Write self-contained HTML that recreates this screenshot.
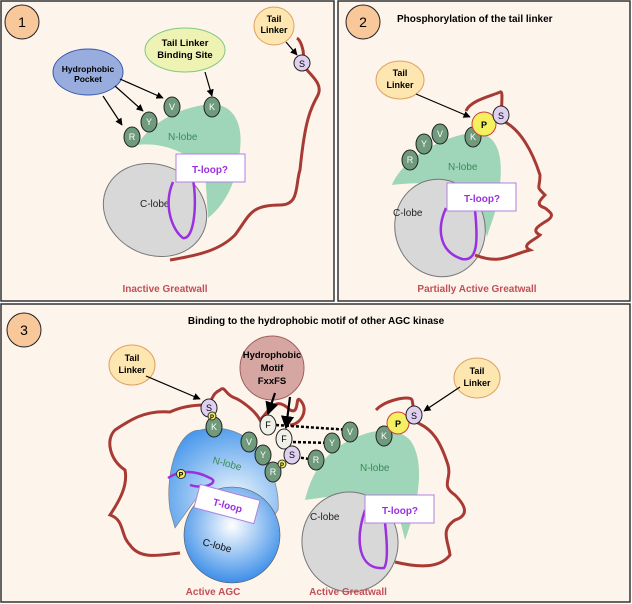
<!DOCTYPE html>
<html><head><meta charset="utf-8"><style>
body{margin:0;background:#fff}
svg{display:block}
text{font-family:"Liberation Sans",sans-serif}
.b{font-weight:bold}
</style></head><body>
<svg width="632" height="604" viewBox="0 0 632 604" xmlns="http://www.w3.org/2000/svg">
<defs>
<marker id="ar" viewBox="0 0 10 10" refX="9" refY="5" markerWidth="6" markerHeight="6" orient="auto"><path d="M0,0L10,5L0,10z" fill="#000"/></marker>
<radialGradient id="bl" cx="0.5" cy="0.4" r="0.6"><stop offset="0" stop-color="#fff"/><stop offset="1" stop-color="#3c8ee8"/></radialGradient>
<radialGradient id="bl2" cx="0.6" cy="0.7" r="0.8"><stop offset="0" stop-color="#eef6fc"/><stop offset="1" stop-color="#3f92ea"/></radialGradient>
</defs>
<rect width="632" height="604" fill="#fff"/>
<rect x="1" y="1" width="333" height="300" fill="#fdf4ec" stroke="#333" stroke-width="1.5"/>
<rect x="338" y="1" width="292" height="300" fill="#fdf4ec" stroke="#333" stroke-width="1.5"/>
<rect x="1" y="304" width="629" height="298" fill="#fdf4ec" stroke="#333" stroke-width="1.5"/>

<!-- PANEL 1 -->
<circle cx="22" cy="22" r="17" fill="#f8c89a" stroke="#222"/>
<text x="22" y="27" font-size="14" text-anchor="middle">1</text>
<path d="M137,145 C150,125 175,108 210,104 C235,104 243,125 240,150 C238,180 225,205 208,218 L205,170 C185,150 160,142 137,145Z" fill="#9fd5b8"/>
<ellipse cx="155" cy="210" rx="53" ry="45" transform="rotate(25 155 210)" fill="#d8d8d8" stroke="#777"/>
<text x="140" y="207" font-size="10" fill="#222">C-lobe</text>
<text x="168" y="140" font-size="10" fill="#3a8a5a">N-lobe</text>
<path d="M173,182 C163,205 172,230 183,238 C195,240 197,200 193,180" fill="none" stroke="#9b30e0" stroke-width="2.5"/>
<rect x="176" y="154" width="69" height="28" fill="#fff" stroke="#b080e0"/>
<text x="210" y="173" font-size="10" class="b" fill="#9b30e0" text-anchor="middle">T-loop?</text>
<path d="M170,260 C200,255 220,250 235,235 C250,215 250,205 280,205 C300,205 295,185 300,170 C305,120 310,110 318,95 C325,80 300,70 303,60 C305,50 300,40 297,38" fill="none" stroke="#a83a34" stroke-width="3"/>
<ellipse cx="302" cy="63" rx="8" ry="8" fill="#e0d0f0" stroke="#222"/>
<text x="302" y="67" font-size="9" text-anchor="middle">S</text>
<ellipse cx="274" cy="26" rx="20" ry="19" fill="#fde6b0" stroke="#e0a060"/>
<text x="274" y="22" font-size="9" class="b" text-anchor="middle">Tail</text>
<text x="274" y="33" font-size="9" class="b" text-anchor="middle">Linker</text>
<line x1="286" y1="42" x2="297" y2="55" stroke="#000" stroke-width="1.2" marker-end="url(#ar)"/>
<ellipse cx="185" cy="50" rx="40" ry="22" fill="#eef3b4" stroke="#80c880"/>
<text x="185" y="46" font-size="9.5" class="b" text-anchor="middle">Tail Linker</text>
<text x="185" y="58" font-size="9.5" class="b" text-anchor="middle">Binding Site</text>
<ellipse cx="88" cy="72" rx="35" ry="23" fill="#98acdd" stroke="#3a5ab0"/>
<text x="88" y="72" font-size="8.5" class="b" text-anchor="middle">Hydrophobic</text>
<text x="88" y="82" font-size="8.5" class="b" text-anchor="middle">Pocket</text>
<g stroke="#000" stroke-width="1.2" marker-end="url(#ar)">
<line x1="120" y1="79" x2="163" y2="98"/>
<line x1="115" y1="86" x2="143" y2="111"/>
<line x1="103" y1="96" x2="122" y2="125"/>
<line x1="205" y1="72" x2="212" y2="96"/>
</g>
<g fill="#6f9a7c" stroke="#222">
<ellipse cx="132" cy="137" rx="8" ry="10"/><ellipse cx="149" cy="122" rx="8" ry="10"/><ellipse cx="172" cy="107" rx="8" ry="10"/><ellipse cx="212" cy="107" rx="8" ry="10"/>
</g>
<g font-size="9" fill="#fff" text-anchor="middle"><text x="132" y="140">R</text><text x="149" y="125">Y</text><text x="172" y="110">V</text><text x="212" y="110">K</text></g>
<text x="165" y="292" font-size="10" class="b" fill="#c05058" text-anchor="middle">Inactive Greatwall</text>

<!-- PANEL 2 -->
<circle cx="363" cy="22" r="17" fill="#f8c89a" stroke="#222"/>
<text x="363" y="27" font-size="14" text-anchor="middle">2</text>
<text x="397" y="22" font-size="10" class="b">Phosphorylation of the tail linker</text>
<path d="M392,185 C400,165 430,140 470,133 C500,130 503,160 500,185 C498,210 490,225 487,237 L480,205 C460,185 430,180 392,185Z" fill="#9fd5b8"/>
<ellipse cx="440" cy="228" rx="45" ry="49" transform="rotate(-15 440 228)" fill="#d8d8d8" stroke="#777"/>
<text x="393" y="216" font-size="10" fill="#222">C-lobe</text>
<text x="448" y="170" font-size="10" fill="#3a8a5a">N-lobe</text>
<path d="M446,208 C436,230 440,252 462,259 C478,262 478,240 475,210" fill="none" stroke="#9b30e0" stroke-width="2.5"/>
<rect x="447" y="183" width="69" height="28" fill="#fff" stroke="#b080e0"/>
<text x="482" y="202" font-size="10" class="b" fill="#9b30e0" text-anchor="middle">T-loop?</text>
<path d="M466,111 C470,100 495,95 500,92 C505,90 498,115 505,122 C520,130 532,150 540,175 C540,190 535,185 545,195 C540,200 535,205 545,208 C550,212 555,215 548,220 C540,225 530,230 540,235 C535,240 520,245 530,250 C510,255 500,265 475,255" fill="none" stroke="#a83a34" stroke-width="3"/>
<g fill="#6f9a7c" stroke="#222">
<ellipse cx="410" cy="160" rx="8" ry="10"/><ellipse cx="424" cy="144" rx="8" ry="10"/><ellipse cx="440" cy="134" rx="8" ry="10"/><ellipse cx="473" cy="137" rx="8" ry="10"/>
</g>
<g font-size="9" fill="#fff" text-anchor="middle"><text x="410" y="163">R</text><text x="424" y="147">Y</text><text x="440" y="137">V</text><text x="473" y="140">K</text></g>
<circle cx="484" cy="124" r="12" fill="#f5f060" stroke="#d04040"/>
<text x="484" y="128" font-size="9" class="b" text-anchor="middle">P</text>
<ellipse cx="501" cy="115" rx="8" ry="9" fill="#e0d0f0" stroke="#222"/>
<text x="501" y="119" font-size="9" text-anchor="middle">S</text>
<ellipse cx="400" cy="80" rx="24" ry="19" fill="#fde6b0" stroke="#e0a060"/>
<text x="400" y="76" font-size="9" class="b" text-anchor="middle">Tail</text>
<text x="400" y="88" font-size="9" class="b" text-anchor="middle">Linker</text>
<line x1="416" y1="94" x2="470" y2="117" stroke="#000" stroke-width="1.2" marker-end="url(#ar)"/>
<text x="477" y="292" font-size="10" class="b" fill="#c05058" text-anchor="middle">Partially Active Greatwall</text>

<!-- PANEL 3 -->
<circle cx="24" cy="330" r="17" fill="#f8c89a" stroke="#222"/>
<text x="24" y="335" font-size="14" text-anchor="middle">3</text>
<text x="316" y="324" font-size="10" class="b" text-anchor="middle">Binding to the hydrophobic motif of other AGC kinase</text>
<path d="M170,510 C165,480 175,430 200,430 C220,425 240,430 255,445 C270,460 280,490 278,510 L268,525 L255,500 L195,500 L175,528 Z" fill="url(#bl2)" stroke="#777" stroke-width="0.6"/>
<circle cx="232" cy="535" r="48" fill="url(#bl)" stroke="#555" stroke-width="0.6"/>
<text x="212" y="463" font-size="10" fill="#3a8a5a" transform="rotate(15 212 463)">N-lobe</text>
<text x="202" y="545" font-size="10" fill="#111" transform="rotate(15 202 545)">C-lobe</text>
<path d="M168,478 C180,470 195,470 210,478 C220,482 205,490 190,485" fill="none" stroke="#9b30e0" stroke-width="2.5"/>
<circle cx="181" cy="474" r="4.5" fill="#f5f060" stroke="#333"/>
<text x="181" y="477" font-size="7" class="b" text-anchor="middle">P</text>
<rect x="196" y="492" width="62" height="24" fill="#fff" stroke="#b080e0" transform="rotate(15 227 504)"/>
<text x="228" y="509" font-size="10" class="b" fill="#9b30e0" text-anchor="middle" transform="rotate(15 228 504)">T-loop</text>
<path d="M180,553 C160,555 140,560 130,545 C120,535 125,520 110,515 C120,500 128,485 125,470 C110,460 105,440 115,430 C130,420 145,410 170,412 C185,405 200,405 205,405 C215,400 210,395 220,390 C225,385 225,395 235,398 C240,400 255,410 260,420 C270,410 275,395 290,410 C300,415 295,395 300,400 C310,410 300,425 290,425" fill="none" stroke="#a83a34" stroke-width="3"/>
<path d="M305,500 C310,480 320,455 350,440 C380,425 400,430 410,440 C425,460 420,500 405,540 L400,520 L340,495 Z" fill="#9fd5b8"/>
<ellipse cx="350" cy="542" rx="48" ry="50" transform="rotate(-10 350 542)" fill="#d8d8d8" stroke="#777"/>
<text x="310" y="520" font-size="10" fill="#222">C-lobe</text>
<text x="360" y="471" font-size="10" fill="#3a8a5a">N-lobe</text>
<path d="M365,510 C355,540 358,570 384,568 C390,560 385,520 383,510" fill="none" stroke="#9b30e0" stroke-width="2.5"/>
<rect x="365" y="495" width="69" height="28" fill="#fff" stroke="#b080e0"/>
<text x="400" y="514" font-size="10" class="b" fill="#9b30e0" text-anchor="middle">T-loop?</text>
<path d="M376,410 C385,400 410,395 412,400 C415,410 410,420 420,424 C432,430 440,440 448,465 C452,480 440,485 455,495 C465,505 470,515 455,520 C440,530 448,540 450,555 C440,568 420,568 395,562" fill="none" stroke="#a83a34" stroke-width="3"/>
<g stroke="#000" stroke-width="2.5" stroke-dasharray="3,2">
<line x1="276" y1="425" x2="350" y2="430"/>
<line x1="293" y1="442" x2="332" y2="443"/>
<line x1="296" y1="457" x2="316" y2="460"/>
</g>
<g fill="#6f9a7c" stroke="#222">
<ellipse cx="214" cy="427" rx="8" ry="10"/>
<ellipse cx="249" cy="442" rx="8" ry="10"/><ellipse cx="263" cy="455" rx="8" ry="10"/><ellipse cx="273" cy="472" rx="8" ry="10"/>
<ellipse cx="316" cy="460" rx="8" ry="10"/><ellipse cx="332" cy="443" rx="8" ry="10"/><ellipse cx="350" cy="432" rx="8" ry="10"/><ellipse cx="384" cy="436" rx="8" ry="10"/>
</g>
<g font-size="9" fill="#fff" text-anchor="middle">
<text x="214" y="430">K</text><text x="249" y="445">V</text><text x="263" y="458">Y</text><text x="273" y="475">R</text>
<text x="316" y="463">R</text><text x="332" y="446">Y</text><text x="350" y="435">V</text><text x="384" y="439">K</text></g>
<ellipse cx="268" cy="425" rx="8" ry="10" fill="#f0f0e8" stroke="#222"/><text x="268" y="428" font-size="9" text-anchor="middle">F</text>
<ellipse cx="284" cy="439" rx="8" ry="10" fill="#f0f0e8" stroke="#222"/><text x="284" y="442" font-size="9" text-anchor="middle">F</text>
<ellipse cx="292" cy="455" rx="8" ry="9" fill="#e0d0f0" stroke="#222"/><text x="292" y="458" font-size="9" text-anchor="middle">S</text>
<circle cx="282" cy="464" r="4" fill="#f5f060" stroke="#333"/><text x="282" y="467" font-size="6" class="b" text-anchor="middle">P</text>
<ellipse cx="209" cy="408" rx="8" ry="9" fill="#e0d0f0" stroke="#222"/><text x="209" y="411" font-size="9" text-anchor="middle">S</text>
<circle cx="212" cy="416" r="4" fill="#f5f060" stroke="#333"/><text x="212" y="419" font-size="6" class="b" text-anchor="middle">P</text>
<circle cx="398" cy="423" r="11" fill="#f5f060" stroke="#d04040"/><text x="398" y="427" font-size="9" class="b" text-anchor="middle">P</text>
<ellipse cx="414" cy="415" rx="8" ry="9" fill="#e0d0f0" stroke="#222"/><text x="414" y="419" font-size="9" text-anchor="middle">S</text>
<ellipse cx="272" cy="368" rx="32" ry="32" fill="#d6a6a2" stroke="#a06060"/>
<text x="272" y="358" font-size="9.5" class="b" text-anchor="middle">Hydrophobic</text>
<text x="272" y="371" font-size="9.5" class="b" text-anchor="middle">Motif</text>
<text x="272" y="384" font-size="9.5" class="b" text-anchor="middle">FxxFS</text>
<line x1="275" y1="393" x2="268" y2="414" stroke="#000" stroke-width="2.2" marker-end="url(#ar)"/>
<line x1="290" y1="397" x2="286" y2="428" stroke="#000" stroke-width="2.2" marker-end="url(#ar)"/>
<ellipse cx="132" cy="365" rx="23" ry="20" fill="#fde6b0" stroke="#e0a060"/>
<text x="132" y="361" font-size="9" class="b" text-anchor="middle">Tail</text>
<text x="132" y="373" font-size="9" class="b" text-anchor="middle">Linker</text>
<line x1="146" y1="376" x2="200" y2="399" stroke="#000" stroke-width="1.2" marker-end="url(#ar)"/>
<ellipse cx="477" cy="378" rx="23" ry="20" fill="#fde6b0" stroke="#e0a060"/>
<text x="477" y="374" font-size="9" class="b" text-anchor="middle">Tail</text>
<text x="477" y="386" font-size="9" class="b" text-anchor="middle">Linker</text>
<line x1="460" y1="387" x2="424" y2="411" stroke="#000" stroke-width="1.2" marker-end="url(#ar)"/>
<text x="213" y="595" font-size="10" class="b" fill="#c05058" text-anchor="middle">Active AGC</text>
<text x="348" y="595" font-size="10" class="b" fill="#c05058" text-anchor="middle">Active Greatwall</text>
</svg>
</body></html>
